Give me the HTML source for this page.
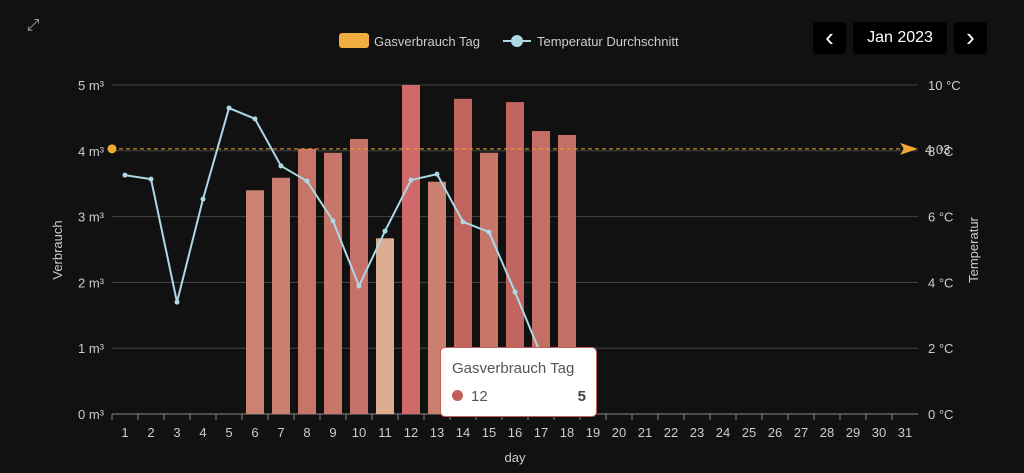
<!DOCTYPE html>
<html><head><meta charset="utf-8"><style>
body{margin:0;background:#111;width:1024px;height:473px;overflow:hidden;font-family:"Liberation Sans",sans-serif;color:#ccc}
svg{position:absolute;left:0;top:0}
.btn{position:absolute;top:22px;height:32px;background:#000;border-radius:4px;color:#fff;display:flex;align-items:center;justify-content:center;font-size:16px}
.chev{font-size:26px;line-height:32px;padding-bottom:3px;box-sizing:border-box}
</style></head><body>
<svg id="c" width="1024" height="473"></svg>
<div class="btn chev" style="left:813px;width:33px">&#x2039;</div>
<div class="btn" style="left:853px;width:94px">Jan 2023</div>
<div class="btn chev" style="left:954px;width:33px">&#x203A;</div>
<div style="position:absolute;left:440px;top:347px;width:157px;height:70px;background:#fff;border:1px solid #c0605a;border-radius:5px;box-sizing:border-box">
<div style="position:absolute;left:11px;top:12px;font-size:15px;color:#555">Gasverbrauch Tag</div>
<div style="position:absolute;left:11px;top:42px;width:11px;height:11px;border-radius:50%;background:#c0605a"></div>
<div style="position:absolute;left:30px;top:40px;font-size:15px;color:#555">12</div>
<div style="position:absolute;right:10px;top:40px;font-size:15px;color:#444;font-weight:bold">5</div>
</div>
<script>
const days=[1,2,3,4,5,6,7,8,9,10,11,12,13,14,15,16,17,18,19,20,21,22,23,24,25,26,27,28,29,30,31];
const gas=[null,null,null,null,null,3.4,3.59,4.03,3.97,4.18,2.67,5,3.53,4.79,3.97,4.74,4.3,4.24];
const temp=[7.26,7.14,3.4,6.53,9.3,8.97,7.54,7.08,5.87,3.89,5.56,7.11,7.29,5.84,5.53,3.71,1.8];
const leftTicks=[0,1,2,3,4,5];
const rightTicks=[0,2,4,6,8,10];
const avg=4.03;
const svg=document.getElementById('c');const NS='http://www.w3.org/2000/svg';
const X0=112,X1=918,Y0=414,Y1=85;
const bw=(X1-X0)/days.length;
const xc=i=>X0+bw*(i+0.5);
const yl=v=>Y0-(Y0-Y1)*v/5;
const yr=v=>Y0-(Y0-Y1)*v/10;
function el(t,a,txt){const e=document.createElementNS(NS,t);for(const k in a)e.setAttribute(k,a[k]);if(txt!=null)e.textContent=txt;svg.appendChild(e);return e;}
leftTicks.forEach((v,i)=>{
 const g=el('line',{x1:X0,x2:X1,y1:yl(v),y2:yl(v),stroke:v==0?'#888':'#444'});
 
 
 const t=el('text',{x:104,y:yl(v)+5,'text-anchor':'end','font-size':13,fill:'#ccc'},v+' m³');
 
 
});
rightTicks.forEach(v=>{
 const t=el('text',{x:928,y:yr(v)+5,'font-size':13,fill:'#ccc'},v+' °C');
 
 
});
days.forEach((d,i)=>{
 const tk=el('line',{x1:X0+bw*i,x2:X0+bw*i,y1:Y0,y2:Y0+6,stroke:'#888'});
 
 
 const t=el('text',{x:xc(i),y:437,'text-anchor':'middle','font-size':13,fill:'#ccc'},d);
 
 
});
function col(v){const t=Math.max(0,Math.min(1,(v-2.67)/(4.8-2.67)));const a=[220,174,143],b=[192,100,94];const tt=t<0.2?t*2.5:0.5+0.5*(t-0.2)/0.8;return 'rgb('+a.map((c,k)=>Math.round(c+(b[k]-c)*tt)).join(',')+')';}
gas.forEach((v,i)=>{if(v==null)return;
 const r=el('rect',{x:xc(i)-9,y:yl(v),width:18,height:Y0-yl(v),fill:v>=5?'#d06a6a':col(v)});
 
 
});
const ln=el('polyline',{points:temp.map((v,i)=>xc(i)+','+yr(v)).join(' '),fill:'none',stroke:'#add8e6','stroke-width':2});


temp.forEach((v,i)=>{const c=el('circle',{cx:xc(i),cy:yr(v),r:2.5,fill:'#add8e6'});
 
 });
const al=el('line',{x1:112,x2:912,y1:yl(avg),y2:yl(avg),stroke:'#f0a830','stroke-dasharray':'4,3'});


const ad=el('circle',{cx:112,cy:yl(avg),r:4.5,fill:'#f0a830'});


const ar=el('path',{d:`M900 ${yl(avg)-6} L918 ${yl(avg)} L900 ${yl(avg)+6} L904 ${yl(avg)} Z`,fill:'#f0a830'});


const at=el('text',{x:925,y:yl(avg)+5,'font-size':13,fill:'#ccc'},avg.toFixed(2));


const xt=el('text',{x:515,y:462,'text-anchor':'middle','font-size':13,fill:'#ccc'},'day');


const yt=el('text',{x:62,y:250,'text-anchor':'middle','font-size':13,fill:'#ccc',transform:'rotate(-90 62 250)'},'Verbrauch');


const yt2=el('text',{x:978,y:250,'text-anchor':'middle','font-size':13,fill:'#ccc',transform:'rotate(-90 978 250)'},'Temperatur');


const lg1=el('rect',{x:339,y:33,width:30,height:15,rx:3,fill:'#f2ad40'});


const lt1=el('text',{x:374,y:46,'font-size':13,fill:'#ccc'},'Gasverbrauch Tag');


const lg2=el('line',{x1:503,x2:531,y1:41,y2:41,stroke:'#add8e6','stroke-width':2});


const lg3=el('circle',{cx:517,cy:41,r:6,fill:'#add8e6'});


const lt2=el('text',{x:537,y:46,'font-size':13,fill:'#ccc'},'Temperatur Durchschnitt');


const ex=el('text',{x:33,y:30,'text-anchor':'middle','font-size':16,fill:'#aaa'},'⤢');


</script>
</body></html>
